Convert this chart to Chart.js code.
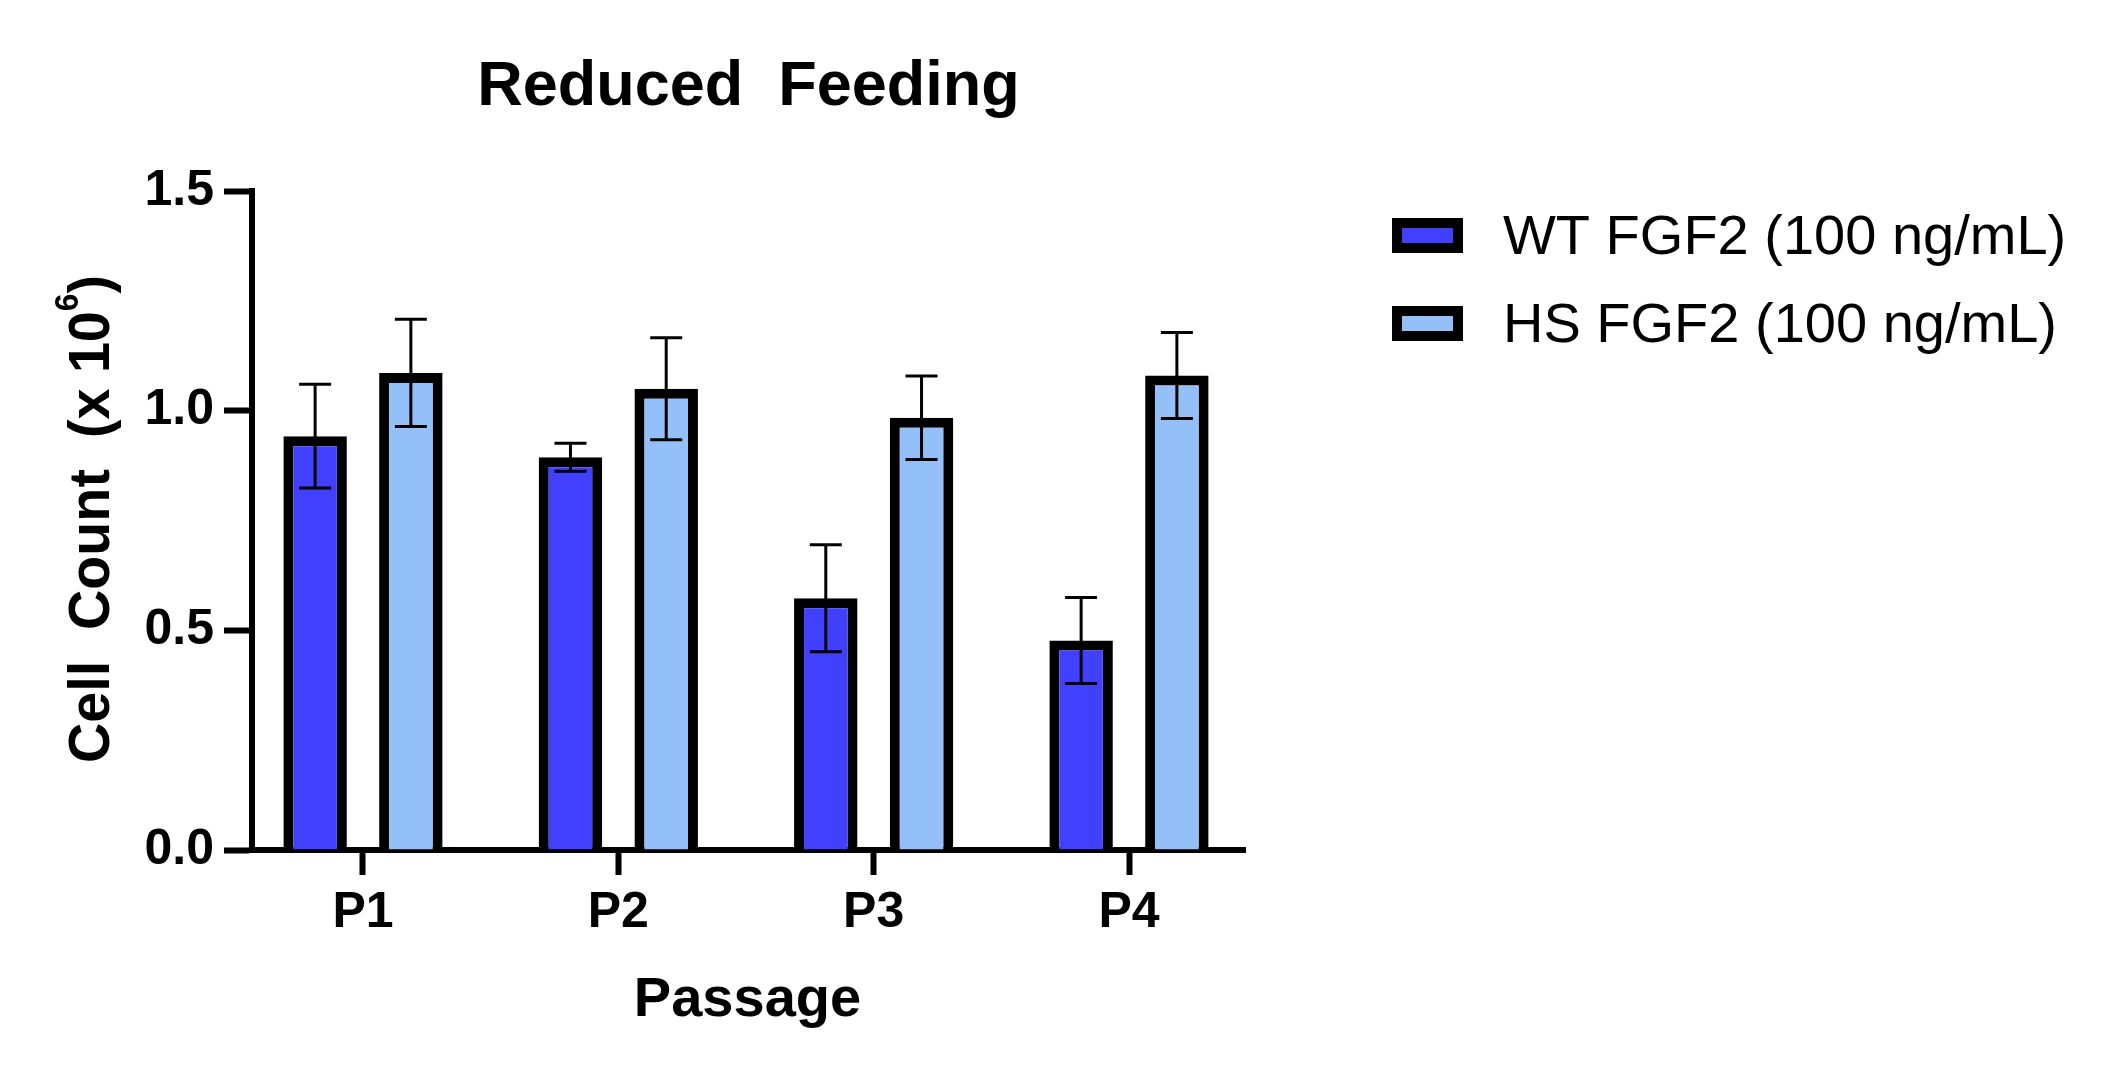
<!DOCTYPE html>
<html><head><meta charset="utf-8">
<script src="https://cdn.jsdelivr.net/npm/chart.js@4.4.1/dist/chart.umd.min.js"></script>
<style>html,body{margin:0;padding:0;background:#fff;overflow:hidden;}</style>
</head><body>
<canvas id="c" width="2108" height="1077" style="display:block;width:2108px;height:1077px"></canvas>
<script>
const categories = ['P1', 'P2', 'P3', 'P4'];
const seriesNames = ['WT FGF2 (100 ng/mL)', 'HS FGF2 (100 ng/mL)'];
const wtMean = [0.942, 0.894, 0.573, 0.477];
const wtErr  = [0.118, 0.032, 0.122, 0.098];
const hsMean = [1.086, 1.050, 0.984, 1.080];
const hsErr  = [0.122, 0.116, 0.095, 0.098];
const yTicks = [0, 0.5, 1.0, 1.5];
const chartTitle = 'Reduced  Feeding';
const xTitle = 'Passage';
const yTitleMain = 'Cell  Count  (x 10';
const yTitleSup = '6';
const yTitleEnd = ')';

const means = [wtMean, hsMean];
const errs = [wtErr, hsErr];
const FONT = '"Liberation Sans", Arial, Helvetica, sans-serif';

const errorBars = {
  id: 'errorBars',
  afterDatasetsDraw(chart) {
    const ctx = chart.ctx, ys = chart.scales.y;
    chart.data.datasets.forEach((ds, di) => {
      const meta = chart.getDatasetMeta(di);
      meta.data.forEach((bar, i) => {
        const x = bar.x;
        const yt = ys.getPixelForValue(means[di][i] + errs[di][i]);
        const yb = ys.getPixelForValue(means[di][i] - errs[di][i]);
        ctx.save();
        ctx.strokeStyle = '#000';
        ctx.lineWidth = 3;
        ctx.beginPath();
        ctx.moveTo(x, yt); ctx.lineTo(x, yb);
        ctx.moveTo(x - 16, yt); ctx.lineTo(x + 16, yt);
        ctx.moveTo(x - 16, yb); ctx.lineTo(x + 16, yb);
        ctx.stroke();
        ctx.restore();
      });
    });
  }
};

const texts = {
  id: 'texts',
  afterDraw(chart) {
    const ctx = chart.ctx;
    const ca = chart.chartArea;
    ctx.save();
    ctx.fillStyle = '#000';
    // title
    ctx.font = 'bold 63px ' + FONT;
    ctx.textAlign = 'center';
    ctx.textBaseline = 'alphabetic';
    ctx.fillText(chartTitle, (ca.left + ca.right) / 2, 105);
    // x title
    ctx.font = 'bold 56px ' + FONT;
    ctx.fillText(xTitle, (ca.left + ca.right) / 2 - 1, 1016);
    // y title rotated
    ctx.save();
    ctx.translate(109, 519);
    ctx.rotate(-Math.PI / 2);
    ctx.textAlign = 'left';
    const fMain = 'bold 58px ' + FONT, fSup = 'bold 33px ' + FONT;
    ctx.font = fMain; const w1 = ctx.measureText(yTitleMain).width; const w3 = ctx.measureText(yTitleEnd).width;
    ctx.font = fSup; const w2 = ctx.measureText(yTitleSup).width;
    const total = w1 + w2 + w3;
    const k = 488 / total;
    ctx.scale(k, 1);
    let xs = -total / 2;
    ctx.font = fMain; ctx.fillText(yTitleMain, xs, 0); xs += w1;
    ctx.font = fSup; ctx.fillText(yTitleSup, xs, -31); xs += w2;
    ctx.font = fMain; ctx.fillText(yTitleEnd, xs, 0);
    ctx.restore();
    // legend
    chart.data.datasets.forEach((ds, i) => {
      const by = 218 + 88 * i;
      ctx.fillStyle = '#000';
      ctx.fillRect(1392, by, 71, 35);
      ctx.fillStyle = ds.backgroundColor;
      ctx.fillRect(1402, by + 10, 51, 15);
      ctx.fillStyle = '#000';
      ctx.font = '56px ' + FONT;
      ctx.textAlign = 'left';
      ctx.textBaseline = 'alphabetic';
      ctx.fillText(ds.label, 1503, 254 + 88 * i);
    });
    ctx.restore();
  }
};

new Chart(document.getElementById('c'), {
  type: 'bar',
  data: {
    datasets: [
      { label: seriesNames[0], data: wtMean.map((v, i) => ({ x: i, y: v })),
        backgroundColor: '#4240FF', borderColor: '#000', borderWidth: 10, borderSkipped: 'start' },
      { label: seriesNames[1], data: hsMean.map((v, i) => ({ x: i, y: v })),
        backgroundColor: '#93C0F8', borderColor: '#000', borderWidth: 10, borderSkipped: 'start' }
    ]
  },
  options: {
    responsive: false,
    animation: false,
    devicePixelRatio: 1,
    categoryPercentage: 0.75,
    barPercentage: 0.663,
    layout: { padding: { left: 0, top: 191, right: 863, bottom: 0 } },
    plugins: { legend: { display: false }, title: { display: false }, tooltip: { enabled: false } },
    scales: {
      x: {
        type: 'linear',
        offset: false,
        min: -0.4347, max: 3.4543,
        z: 1,
        afterBuildTicks: (s) => { s.ticks = categories.map((c, i) => ({ value: i })); },
        afterFit: (s) => { s.height = 227; },
        ticks: { callback: (v, i) => categories[i], font: { family: FONT, size: 50, weight: 'bold' }, color: '#000', padding: 8, autoSkip: false, maxRotation: 0 },
        grid: { offset: false, drawOnChartArea: false, drawTicks: true, tickLength: 25, tickWidth: 6, color: '#000' },
        border: { display: true, width: 6, color: '#000' }
      },
      y: {
        min: 0, max: 1.5,
        afterBuildTicks: (s) => { s.ticks = yTicks.map(v => ({ value: v })); },
        afterFit: (s) => { s.width = 252; },
        ticks: { callback: (v) => Number(v).toFixed(1), font: { family: FONT, size: 50, weight: 'bold' }, color: '#000', padding: 10 },
        grid: { drawOnChartArea: false, drawTicks: true, tickLength: 28, tickWidth: 6, color: '#000' },
        border: { display: true, width: 6, color: '#000' }
      }
    }
  },
  plugins: [errorBars, texts]
});
</script>
</body></html>
